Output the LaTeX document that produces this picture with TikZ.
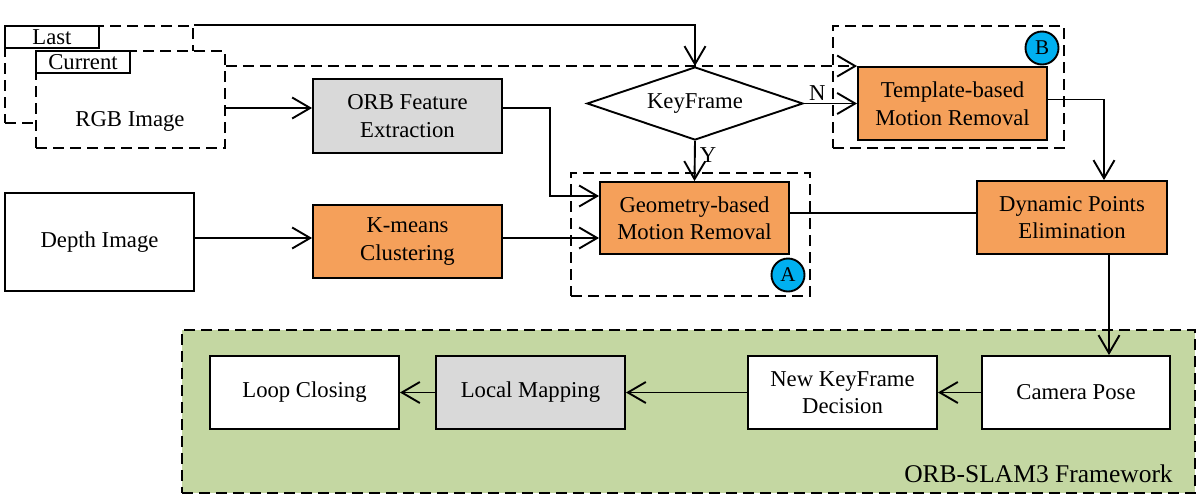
\documentclass[tikz,border=0pt]{standalone}
\usepackage{fontspec}
\setmainfont{Liberation Serif}
\newfontfamily\tnr{Liberation Serif}
\usetikzlibrary{arrows.meta,shapes.geometric}
\definecolor{boxorange}{RGB}{245,160,90}
\definecolor{boxgray}{RGB}{217,217,217}
\definecolor{frgreen}{RGB}{196,215,162}
\definecolor{markblue}{RGB}{0,176,240}
\begin{document}
\begin{tikzpicture}[x=1pt,y=-1pt,
  txt/.style={font=\tnr\fontsize{22.7}{27.5}\selectfont},
  blk/.style={draw, line width=1.9pt, inner sep=0pt, align=center, txt},
  wbox/.style={blk, fill=white},
  obox/.style={blk, fill=boxorange},
  gbox/.style={blk, fill=boxgray},
  dframe/.style={draw, line width=1.9pt, dash pattern=on 11pt off 6pt, inner sep=0pt},
  tagbox/.style={draw, line width=1.9pt, fill=white, inner sep=0pt, txt},
  markcirc/.style={circle, draw, line width=1.9pt, fill=markblue, inner sep=0pt, minimum size=33pt, font=\tnr\fontsize{21}{24}\selectfont},
  arr/.style={line width=1.9pt, -{Straight Barb[length=18pt,width=21pt,line width=1.9pt]}},
  darr/.style={arr, dash pattern=on 11pt off 6pt},
  conn/.style={line width=1.9pt}
]
\useasboundingbox (0,0) rectangle (1200,499);

% background frames
\node[dframe, fill=frgreen, minimum width=1013pt, minimum height=163pt] (green) at (688.5,411.5) {};
\node[dframe, minimum width=239pt, minimum height=123pt] (Aframe) at (690.5,234.5) {};
\node[dframe, minimum width=231pt, minimum height=122pt] (Bframe) at (948.5,87) {};

% image frames
\node[dframe, fill=white, minimum width=188pt, minimum height=97pt] (lastframe) at (99,74.5) {};
\node[dframe, fill=white, minimum width=189pt, minimum height=97pt] (curframe) at (130.5,99.5) {};
\node[tagbox, minimum width=94pt, minimum height=22pt] (lasttag) at (52,37) {Last};
\node[tagbox, minimum width=94pt, minimum height=22pt] (curtag) at (83,62) {Current};
\node[txt, inner sep=0pt] (rgb) at (130,121) {RGB Image};

% blocks
\node[gbox, minimum width=189pt, minimum height=74pt] (orb) at (407.5,116) {ORB Feature\\Extraction};
\node[wbox, minimum width=189pt, minimum height=98pt] (depth) at (99.5,242) {Depth Image};
\node[obox, minimum width=189pt, minimum height=73pt] (km) at (407.5,241.5) {K-means\\Clustering};
\node[diamond, draw, line width=1.9pt, fill=white, inner sep=0pt, aspect=3, minimum width=216pt, minimum height=73pt, txt] (kf) at (695,103.5) {KeyFrame};
\node[obox, minimum width=189pt, minimum height=72pt] (geo) at (694.5,218) {Geometry-based\\Motion Removal};
\node[obox, minimum width=189pt, minimum height=73pt] (tmpl) at (952.5,103.5) {Template-based\\Motion Removal};
\node[obox, minimum width=190pt, minimum height=73pt] (dyn) at (1072,217.5) {Dynamic Points\\Elimination};
\node[markcirc] (Amark) at (788,275) {A};
\node[markcirc] (Bmark) at (1042,48) {B};

\node[wbox, minimum width=189pt, minimum height=73pt] (loop) at (304.5,392.5) {Loop Closing};
\node[gbox, minimum width=189pt, minimum height=73pt] (local) at (530.5,392.5) {Local Mapping};
\node[wbox, minimum width=189pt, minimum height=73pt] (nkd) at (842.5,392.5) {New KeyFrame\\Decision};
\node[wbox, minimum width=188pt, minimum height=73pt] (cam) at (1076,392.5) {Camera Pose};
\node[anchor=base east, inner sep=0pt, font=\tnr\fontsize{25.5}{28}\selectfont] (fw) at ([xshift=-23pt,yshift=11pt]green.south east) {ORB-SLAM3 Framework};

% connectors
\draw[arr] (lastframe.north east) -| (kf.north);
\draw[darr] ([yshift=-16pt]curframe.north east) -- ([yshift=-16pt]curframe.north east -| tmpl.west);
\draw[arr] ([yshift=8pt]orb.west -| curframe.east) -- ([yshift=8pt]orb.west);
\coordinate (orbturn) at (550,108);
\draw[arr] ([yshift=8pt]orb.east) -- (orbturn) |- ([yshift=22pt]geo.west);
\draw[arr] ([yshift=3.5pt]km.west -| depth.east) -- ([yshift=3.5pt]km.west);
\draw[arr] ([yshift=3.5pt]km.east) -- ([yshift=3.5pt]km.east -| geo.west);
\draw[arr] (kf.south) -- (geo.north) node[pos=0.35, right=4pt, txt, inner sep=0pt] (ylab) {Y};
\draw[arr] (kf.east) -- (kf.east -| tmpl.west) node[pos=0.25, above=2pt, txt, inner sep=0pt] (nlab) {N};
\draw[conn] ([yshift=5pt]geo.east) -- ([yshift=5pt]geo.east -| dyn.west);
\draw[arr] ([yshift=4pt]tmpl.east) -| ([xshift=32pt]dyn.north);
\draw[arr] ([xshift=37pt]dyn.south) -- ([xshift=37pt]dyn.south |- cam.north);
\draw[arr] (cam.west) -- (nkd.east);
\draw[arr] (nkd.west) -- (local.east);
\draw[arr] (local.west) -- (loop.east);
\end{tikzpicture}
\end{document}
